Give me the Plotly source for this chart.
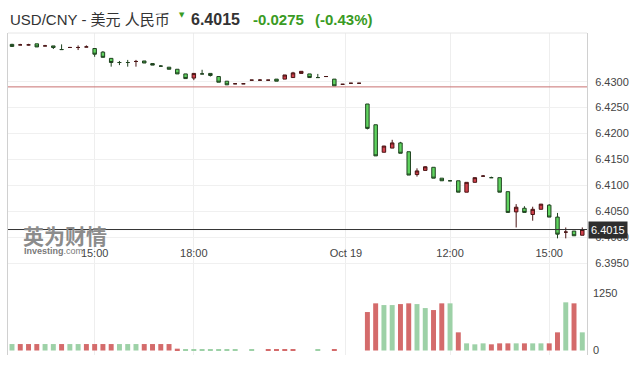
import plotly.graph_objects as go

# ---------------- data ----------------
idx = list(range(70))
opens = [6.4372, 6.4371, 6.4371, 6.4373, 6.4369, 6.4369, 6.4362, 6.4366, 6.4366, 6.4367,
         6.4364, 6.4357, 6.4345, 6.4337, 6.4337, 6.4339, 6.4340, 6.4335, 6.4330, 6.4328,
         6.4324, 6.4315, 6.4307, 6.4315, 6.4316, 6.4310, 6.4301, 6.4296, 6.4296, 6.4303,
         6.4303, 6.4303, 6.4305, 6.4305, 6.4308, 6.4316, 6.4315, 6.4308, 6.4310, 6.4305,
         6.4295, 6.4297, 6.4297, 6.4257, 6.4217, 6.4164, 6.4172, 6.4182, 6.4165, 6.4121,
         6.4129, 6.4135, 6.4114, 6.4109, 6.4109, 6.4087, 6.4106, 6.4118, 6.4115, 6.4115,
         6.4088, 6.4049, 6.4056, 6.4044, 6.4054, 6.4062, 6.4039, 6.4010, 6.4012, 6.4004]
highs = [6.4373, 6.4373, 6.4373, 6.4373, 6.4371, 6.4369, 6.4372, 6.4367, 6.4370, 6.4370,
         6.4364, 6.4359, 6.4345, 6.4340, 6.4342, 6.4342, 6.4340, 6.4335, 6.4332, 6.4328,
         6.4324, 6.4315, 6.4316, 6.4323, 6.4316, 6.4310, 6.4301, 6.4296, 6.4296, 6.4303,
         6.4305, 6.4303, 6.4305, 6.4313, 6.4319, 6.4320, 6.4315, 6.4315, 6.4310, 6.4305,
         6.4295, 6.4297, 6.4297, 6.4257, 6.4217, 6.4176, 6.4188, 6.4184, 6.4165, 6.4133,
         6.4137, 6.4135, 6.4114, 6.4109, 6.4109, 6.4106, 6.4115, 6.4120, 6.4117, 6.4115,
         6.4088, 6.4064, 6.4060, 6.4059, 6.4064, 6.4064, 6.4047, 6.4019, 6.4012, 6.4019]
lows = [6.4367, 6.4371, 6.4370, 6.4367, 6.4369, 6.4363, 6.4362, 6.4366, 6.4361, 6.4367,
        6.4348, 6.4347, 6.4329, 6.4332, 6.4329, 6.4329, 6.4336, 6.4332, 6.4330, 6.4324,
        6.4315, 6.4306, 6.4303, 6.4315, 6.4310, 6.4299, 6.4294, 6.4296, 6.4296, 6.4303,
        6.4303, 6.4303, 6.4301, 6.4305, 6.4308, 6.4316, 6.4308, 6.4308, 6.4310, 6.4292,
        6.4295, 6.4297, 6.4297, 6.4208, 6.4157, 6.4164, 6.4172, 6.4162, 6.4120, 6.4117,
        6.4129, 6.4114, 6.4109, 6.4109, 6.4087, 6.4087, 6.4106, 6.4118, 6.4115, 6.4087,
        6.4048, 6.4019, 6.4048, 6.4032, 6.4054, 6.4039, 6.3998, 6.3998, 6.4003, 6.4004]
closes = [6.4368, 6.4371, 6.4371, 6.4367, 6.4369, 6.4366, 6.4362, 6.4366, 6.4366, 6.4367,
          6.4353, 6.4347, 6.4337, 6.4337, 6.4337, 6.4339, 6.4336, 6.4332, 6.4330, 6.4324,
          6.4315, 6.4306, 6.4316, 6.4315, 6.4312, 6.4299, 6.4294, 6.4296, 6.4296, 6.4303,
          6.4303, 6.4303, 6.4301, 6.4313, 6.4317, 6.4320, 6.4308, 6.4308, 6.4310, 6.4292,
          6.4295, 6.4297, 6.4297, 6.4210, 6.4157, 6.4176, 6.4182, 6.4162, 6.4120, 6.4128,
          6.4136, 6.4114, 6.4109, 6.4109, 6.4087, 6.4106, 6.4115, 6.4118, 6.4115, 6.4087,
          6.4048, 6.4058, 6.4048, 6.4054, 6.4064, 6.4039, 6.4006, 6.4010, 6.4003, 6.4015]
volumes = [140, 140, 140, 140, 140, 140, 140, 140, 140, 140,
           140, 140, 140, 140, 140, 140, 140, 140, 140, 140,
           40, 20, 20, 20, 20, 20, 20, 20, 0, 20,
           0, 20, 20, 20, 20, 0, 0, 20, 0, 20,
           0, 0, 0, 832, 1020, 983, 983, 1004, 1020, 1004,
           918, 875, 1020, 1020, 393, 155, 134, 155, 134, 155,
           155, 155, 155, 155, 155, 155, 393, 1042, 1020, 393]
vol_dir = ["d", "u", "u", "u", "d", "d", "u", "d", "d", "u",
           "u", "u", "u", "d", "d", "d", "u", "u", "u", "u",
           "u", "d", "d", "d", "d", "d", "d", "d", "d", "d",
           "d", "u", "u", "u", "u", "d", "d", "d", "d", "u",
           "d", "d", "d", "u", "u", "d", "d", "u", "u", "d",
           "d", "u", "u", "d", "u", "d", "d", "d", "u", "u",
           "u", "d", "u", "d", "d", "u", "u", "d", "u", "d"]
time_ticks = [10, 22, 40.4, 53, 65]
time_labels = ["15:00", "18:00", "Oct 19", "12:00", "15:00"]
price_ticks = [6.3950, 6.4000, 6.4050, 6.4100, 6.4150, 6.4200, 6.4250, 6.4300]
vol_ticks = [0, 1250]
prev_close = 6.4290
last_price = 6.4015
change = -0.0275
change_pct = -0.43

# ---------------- figure ----------------
W, H = 637, 366
ML, MR, MT, MB = 8, 50, 33, 11
PW, PH = W - ML - MR, H - MT - MB


def px_x(px):
    return (px - ML) / PW


def px_y(py):
    return (H - MB - py) / PH


vol_colors = ["#d46b6b" if d == "u" else "#9dd1a7" for d in vol_dir]

fig = go.Figure()
fig.add_trace(go.Bar(
    x=idx, y=volumes, yaxis="y2", width=0.6,
    marker=dict(color=vol_colors, line=dict(width=0)),
    showlegend=False, hoverinfo="skip"))
fig.add_trace(go.Candlestick(
    x=idx, open=opens, high=highs, low=lows, close=closes,
    increasing=dict(line=dict(color="#4a1414", width=1), fillcolor="#d2404c"),
    decreasing=dict(line=dict(color="#1f421f", width=1), fillcolor="#5fd35f"),
    whiskerwidth=0, showlegend=False))

fig.update_layout(
    width=W, height=H,
    margin=dict(l=ML, r=MR, t=MT, b=MB),
    paper_bgcolor="white", plot_bgcolor="white",
    boxgap=0.4,
    font=dict(family="Liberation Sans, Arial, sans-serif", size=11, color="#444"),
    xaxis=dict(range=[-0.484, 69.57], tickvals=time_ticks, ticktext=time_labels,
               showgrid=True, gridcolor="#eeeeee", gridwidth=1, zeroline=False,
               showline=False, ticks="", anchor="free", position=px_y(245),
               rangeslider=dict(visible=False), tickfont=dict(size=11, color="#444")),
    yaxis=dict(range=[6.37731, 6.43939], tickvals=price_ticks, tickformat=".4f",
               side="right", showgrid=True, gridcolor="#f0f0f0", zeroline=False,
               showline=True, linecolor="#d0d0d0", mirror=True, ticks="",
               ticklabelstandoff=5, tickfont=dict(size=11, color="#444")),
    yaxis2=dict(range=[-97, 6866], tickvals=vol_ticks, overlaying="y", side="right",
                showgrid=False, zeroline=False, showline=False, ticks="",
                ticklabelstandoff=5, tickfont=dict(size=11, color="#444")),
    shapes=[
        dict(type="line", xref="paper", x0=0, x1=1, yref="y", y0=prev_close, y1=prev_close,
             line=dict(color="#c87070", width=1)),
        dict(type="line", xref="paper", x0=0, x1=1, yref="y", y0=last_price, y1=last_price,
             line=dict(color="#333333", width=1)),
        dict(type="line", xref="paper", x0=0, x1=1, yref="paper", y0=1, y1=1,
             line=dict(color="#e6e6e6", width=1)),
    ],
)

title_font = "Liberation Sans, Arial, Noto Sans CJK SC, sans-serif"
green = "#3a9b24"
annos = [
    dict(x=px_x(8), y=px_y(19), text="USD/CNY - 美元 人民币",
         font=dict(family=title_font, size=15, color="#333")),
    dict(x=px_x(177), y=px_y(15), text="▼", font=dict(family="DejaVu Sans", size=7, color=green)),
    dict(x=px_x(189), y=px_y(19), text="<b>%.4f</b>" % last_price,
         font=dict(family=title_font, size=16, color="#333")),
    dict(x=px_x(251), y=px_y(19), text="<b>%.4f</b>" % change,
         font=dict(family=title_font, size=15, color=green)),
    dict(x=px_x(313), y=px_y(19), text="<b>(%.2f%%)</b>" % change_pct,
         font=dict(family=title_font, size=15, color=green)),
    dict(x=px_x(21), y=px_y(235), text="<b>英为财情</b>",
         font=dict(family="Noto Sans CJK SC", size=21, color="#8c8c8c")),
    dict(x=px_x(22), y=px_y(251), text="<b>Investing</b>.com",
         font=dict(family="Liberation Sans, Arial", size=9, color="#7a7a7a")),
]
for a in annos:
    a.update(xref="paper", yref="paper", xanchor="left", yanchor="middle",
             showarrow=False)
    fig.add_annotation(**a)

fig.add_annotation(x=px_x(588), y=last_price, xref="paper", yref="y",
                   text="%.4f" % last_price, showarrow=False, xanchor="left",
                   yanchor="middle", bgcolor="#2e2e2e", borderpad=2,
                   font=dict(family="Liberation Sans, Arial", size=11, color="white"))

fig.write_html("out.html", config={"displayModeBar": False})
